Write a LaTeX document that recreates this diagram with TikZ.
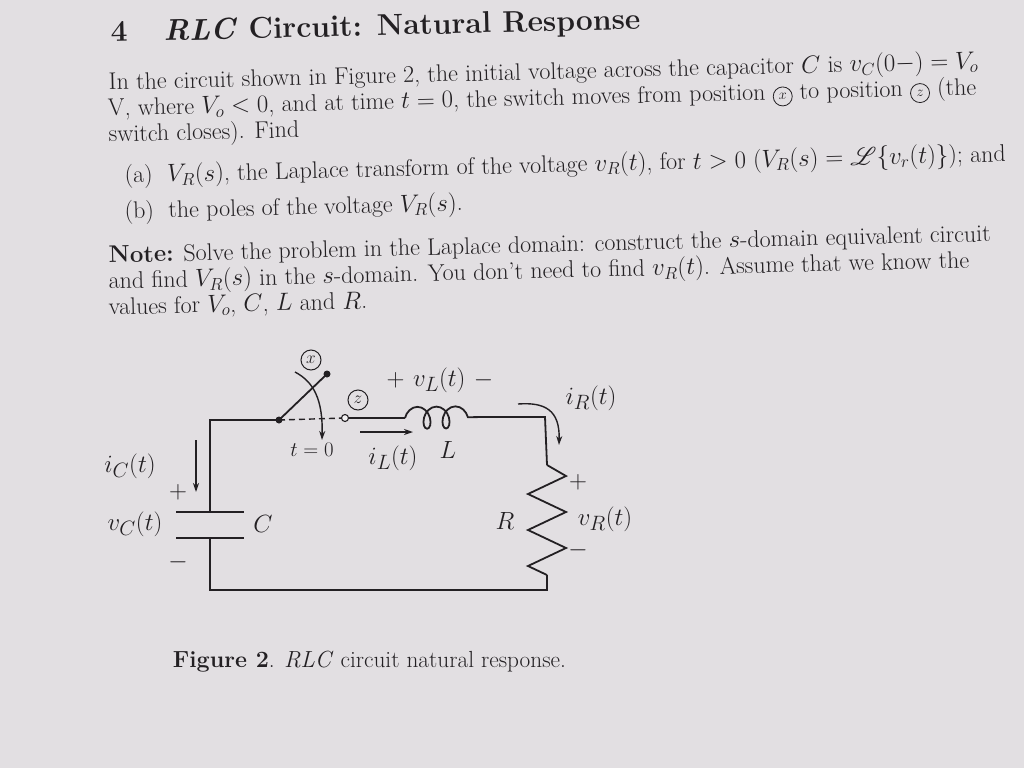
\documentclass[tikz,border=0pt]{standalone}
\usepackage{amsmath,mathrsfs}
\usepackage{fontspec}
\usetikzlibrary{arrows.meta,decorations.pathmorphing}
\definecolor{paper}{RGB}{226,223,226}
\definecolor{ink}{RGB}{35,32,35}
\newcommand{\circlet}[1]{\tikz[baseline=(c.base)]\node[draw,circle,minimum size=19pt,inner sep=0pt,line width=0.8pt](c){\fontsize{15}{16}\selectfont$#1$};}
\begin{document}
\begin{tikzpicture}[x=1pt,y=-1pt,line width=1.8pt,color=ink,
  txt/.style={anchor=base west,inner sep=0,rotate=1.4,font=\fontsize{24}{28}\selectfont},
  lab/.style={inner sep=0,font=\fontsize{28}{32}\selectfont},
  circ/.style={draw,circle,minimum size=20pt,inner sep=0pt,line width=1pt,font=\fontsize{17}{20}\selectfont},
  arr/.style={-{Stealth[length=9pt,width=6pt]},line width=1.4pt}]
\fill[paper] (0,0) rectangle (1024,768);
\useasboundingbox (0,0) rectangle (1024,768);
% text
\node[txt,font=\fontsize{30}{34}\selectfont\bfseries] (h) at (110,42) {4\hspace{1.2em}\textit{RLC} Circuit: Natural Response};
\node[txt] (l1) at (108,90) {In the circuit shown in Figure 2, the initial voltage across the capacitor $C$ is $v_C(0-)=V_o$};
\node[txt] (l2) at (108,116) {V, where $V_o<0$, and at time $t=0$, the switch moves from position \circlet{x} to position \circlet{z} (the};
\node[txt] (l3) at (108,142) {switch closes). Find};
\node[txt] (l4) at (124,183) {(a)\ \ $V_R(s)$, the Laplace transform of the voltage $v_R(t)$, for $t>0$ ($V_R(s)=\mathscr{L}\{v_r(t)\}$); and};
\node[txt] (l5) at (124,219) {(b)\ \ the poles of the voltage $V_R(s)$.};
\node[txt] (l6) at (108,263) {\textbf{Note:} Solve the problem in the Laplace domain: construct the $s$-domain equivalent circuit};
\node[txt] (l7) at (108,289) {and find $V_R(s)$ in the $s$-domain. You don't need to find $v_R(t)$. Assume that we know the};
\node[txt] (l8) at (108,315) {values for $V_o$, $C$, $L$ and $R$.};
% circuit coordinates
\coordinate (tl) at (210,420);
\coordinate (pv) at (279,420);
\coordinate (sx) at (327,374);
\coordinate (oc) at (345,418);
\coordinate (ls) at (405,418);
\coordinate (le) at (485,417);
\coordinate (tr) at (545,417);
\coordinate (rt) at (547,465);
\coordinate (rb) at (547,575);
\coordinate (br) at (547,590);
\coordinate (bl) at (210,590);
\coordinate (ct) at (210,512);
\coordinate (cb) at (210,538);
\draw (ct) -- (tl) -- (pv);
\draw[dash pattern=on 6pt off 4pt,line width=1.4pt] (pv) -- (oc);
\draw (pv) -- (sx);
\fill (pv) circle (3.5pt) (sx) circle (3.5pt);
\draw (oc) -- (ls);
\draw[decorate,decoration={coil,aspect=0.7,segment length=19pt,amplitude=11pt,pre length=0pt,post length=0pt}] (ls) -- (le);
\draw (le) -- (tr) -- (rt);
\draw (rt) -- (566,476) -- (528,494) -- (566,512) -- (528,530) -- (566,548) -- (528,566) -- (rb);
\draw (rb) -- (br) -- (bl) -- (cb);
\draw (176,512) -- (244,512) (176,538) -- (244,538);
\draw[fill=paper!40!white,line width=1.1pt] (oc) circle (3.5pt);
% switch labels
\node[circ] (cx) at (311,360) {$x$};
\node[circ] (cz) at (358,400) {$z$};
\draw[arr] (295,372) .. controls (314,382) and (323,400) .. (322,440);
\node[lab,font=\fontsize{22}{24}\selectfont] (t0) at (312,450) {$t=0$};
\draw[arr] (360,432) -- (413,432);
\node[lab] (iL) at (393,458) {$i_L(t)$};
\node[lab] (L) at (448,450) {$L$};
\node[lab] (vL) at (440,380) {$+\ v_L(t)\ -$};
\draw[arr] (518,404) .. controls (545,402) and (560,410) .. (559,445);
\node[lab] (iR) at (591,398) {$i_R(t)$};
\node[lab] (rp) at (578,482) {$+$};
\node[lab] (vR) at (605,519) {$v_R(t)$};
\node[lab] (rm) at (578,550) {$-$};
\node[lab] (R) at (505,521) {$R$};
\node[lab] (C) at (263,524) {$C$};
\node[lab] (vC) at (135,524) {$v_C(t)$};
\node[lab] (cp) at (178,492) {$+$};
\node[lab] (cm) at (178,562) {$-$};
\node[lab] (iC) at (130,466) {$i_C(t)$};
\draw[arr] (196,440) -- (196,492);
\node[anchor=base west,inner sep=0,font=\fontsize{23.3}{27}\selectfont] (cap) at (172,667) {\textbf{Figure 2}. \textit{RLC} circuit natural response.};
\end{tikzpicture}
\end{document}
